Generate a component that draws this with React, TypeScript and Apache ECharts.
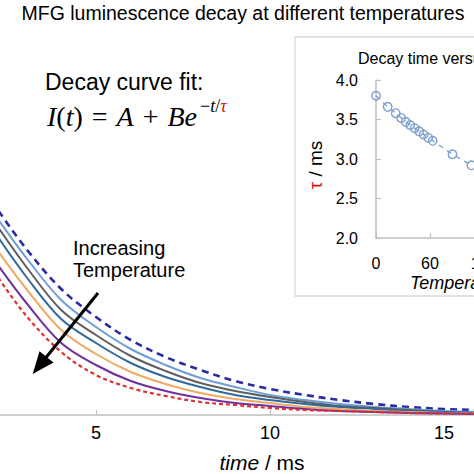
import React, { useEffect, useRef } from "react";
import * as echarts from "echarts";

// Main chart: time (ms) sample points and intensity (a.u.) of each decay curve
const times = [2.2, 3, 4, 5, 6, 7, 8, 9, 10, 11, 12, 13, 14, 15, 16, 17];
const curveBlueDashed = [204, 166, 126, 98, 75, 58, 45, 34, 26, 20, 15, 11, 8, 6, 5, 4];
const curveLightBlue = [195, 157, 115, 88, 66, 50, 37, 28, 20, 15, 11, 8, 6, 4, 3, 2.5];
const curveGray = [187, 148, 105, 80, 59, 44, 32, 24, 18, 13, 9, 7, 5, 3, 2, 1.5];
const curveDarkBlue = [177, 138, 96, 72, 52, 38, 28, 20, 15, 11, 8, 6, 4, 3, 2, 1.5];
const curveOrange = [163, 126, 85, 61, 43, 31, 22, 16, 12, 8, 6, 4, 3, 2, 1.5, 1];
const curvePurple = [149, 112, 72, 50, 34, 24, 17, 12, 9, 6, 4, 3, 2, 1.5, 1, 0.8];
const curveRedDashed = [137, 99, 63, 40, 27, 19, 13, 10, 7, 5, 4, 3, 2, 1.5, 1, 0.8];

// Inset: decay time versus temperature
const insetTemps = [0, 13, 22, 28, 33, 38, 43, 48, 53, 58, 63, 85, 106];
const insetTau = [3.8, 3.66, 3.58, 3.52, 3.47, 3.43, 3.39, 3.35, 3.31, 3.27, 3.23, 3.06, 2.92];

const mainTicks = [5, 10, 15];

const SANS = "Liberation Sans";
const SERIF = "Liberation Serif";

function pairs(vals: number[]) {
  return times.map((t, i) => [t, vals[i]]);
}

export default function App() {
  const ref = useRef<HTMLDivElement>(null);
  useEffect(() => {
    if (!ref.current) return;
    const chart = echarts.init(ref.current, undefined, { renderer: "svg" });
    const curveDefs = [
      { name: "c1", data: curveBlueDashed, color: "#2b2ba6", type: [7, 5], width: 2.6 },
      { name: "c2", data: curveLightBlue, color: "#6c9fd6", type: "solid", width: 2 },
      { name: "c3", data: curveGray, color: "#5f5f5f", type: "solid", width: 2 },
      { name: "c4", data: curveDarkBlue, color: "#2f6a9c", type: "solid", width: 2 },
      { name: "c5", data: curveOrange, color: "#f0a864", type: "solid", width: 2 },
      { name: "c6", data: curvePurple, color: "#7030a0", type: "solid", width: 2 },
      { name: "c7", data: curveRedDashed, color: "#e0302c", type: [4, 3], width: 2.2 },
    ];
    const mainSeries = curveDefs.map((c) => ({
      name: c.name,
      type: "line",
      xAxisIndex: 0,
      yAxisIndex: 0,
      data: pairs(c.data),
      smooth: 0.35,
      symbol: "none",
      lineStyle: { color: c.color, width: c.width, type: c.type as any },
      z: 3,
    }));
    const axisGray = "#bfbfbf";
    chart.setOption({
      animation: false,
      backgroundColor: "#ffffff",
      grid: [
        { left: -78, right: -144, top: 195, bottom: 59, outerBoundsMode: "none", containLabel: false },
        { left: 376, top: 80, width: 162, height: 158, outerBoundsMode: "none", containLabel: false },
      ],
      xAxis: [
        {
          gridIndex: 0,
          type: "value",
          min: 0,
          max: 20,
          interval: 5,
          axisLine: { show: true, lineStyle: { color: axisGray, width: 1.5 } },
          axisTick: { show: true, inside: true, length: 5, lineStyle: { color: axisGray, width: 1.2 } },
          axisLabel: {
            fontSize: 18,
            color: "#000",
            fontFamily: SANS,
            margin: 9,
            formatter: (v: number) => (mainTicks.includes(v) ? String(v) : ""),
          },
          splitLine: { show: false },
        },
        {
          gridIndex: 1,
          type: "value",
          min: 0,
          max: 180,
          interval: 60,
          axisLine: { show: true, lineStyle: { color: axisGray, width: 1.5 } },
          axisTick: { show: true, inside: true, length: 5, lineStyle: { color: axisGray, width: 1.2 } },
          axisLabel: { fontSize: 16, color: "#000", fontFamily: SANS, margin: 17 },
          splitLine: { show: false },
        },
      ],
      yAxis: [
        { gridIndex: 0, type: "value", min: 0, max: 220, show: false },
        {
          gridIndex: 1,
          type: "value",
          min: 2,
          max: 4,
          interval: 0.5,
          axisLine: { show: true, lineStyle: { color: axisGray, width: 1.5 } },
          axisTick: { show: true, inside: true, length: 5, lineStyle: { color: axisGray, width: 1.2 } },
          axisLabel: {
            fontSize: 16,
            color: "#000",
            fontFamily: SANS,
            margin: 18,
            formatter: (v: number) => v.toFixed(1),
          },
          splitLine: { show: false },
        },
      ],
      series: [
        ...mainSeries,
        {
          name: "tau",
          type: "line",
          xAxisIndex: 1,
          yAxisIndex: 1,
          data: insetTemps.map((t, i) => [t, insetTau[i]]),
          symbol: "circle",
          symbolSize: 8.5,
          itemStyle: { color: "rgba(255,255,255,0)", borderColor: "#7f9fd0", borderWidth: 1.4 },
          lineStyle: { color: "#7f9fd0", width: 1.3, type: [5, 5] },
          z: 5,
        },
      ],
      graphic: [
        {
          type: "rect",
          z: -10,
          shape: { x: 295, y: 37, width: 200, height: 259 },
          style: { fill: "#ffffff", stroke: "#d9d9d9", lineWidth: 1.3 },
        },
        {
          type: "text",
          z: 10,
          x: 243,
          y: 13,
          style: {
            text: "MFG luminescence decay at different temperatures",
            fontFamily: SANS,
            fontSize: 19.5,
            fill: "#000",
            align: "center",
            verticalAlign: "middle",
          },
        },
        {
          type: "text",
          z: 10,
          x: 45,
          y: 82,
          style: {
            text: "Decay curve fit:",
            fontFamily: SANS,
            fontSize: 23,
            fill: "#000",
            align: "left",
            verticalAlign: "middle",
          },
        },
        {
          type: "text",
          z: 10,
          x: 47,
          y: 116,
          style: {
            text: "{i|I}{n|(}{i|t}{n|)}{s| }{n|=}{s| }{i|A}{s| }{n|+}{s| }{i|Be}",
            align: "left",
            verticalAlign: "middle",
            rich: {
              i: { fontFamily: SERIF, fontStyle: "italic", fontSize: 28, fill: "#000" },
              n: { fontFamily: SERIF, fontSize: 28, fill: "#000" },
              s: { fontFamily: SERIF, fontSize: 36, fill: "#000" },
            },
          },
        },
        {
          type: "text",
          z: 10,
          x: 200,
          y: 106,
          style: {
            text: "{n|\u2212}{i|t}{n|/}{r|\u03c4}",
            align: "left",
            verticalAlign: "middle",
            rich: {
              i: { fontFamily: SERIF, fontStyle: "italic", fontSize: 18, fill: "#000" },
              n: { fontFamily: SERIF, fontSize: 18, fill: "#000" },
              r: { fontFamily: SERIF, fontStyle: "italic", fontSize: 18, fill: "#e01010" },
            },
          },
        },
        {
          type: "text",
          z: 10,
          x: 73,
          y: 248,
          style: { text: "Increasing", fontFamily: SANS, fontSize: 20, fill: "#000", align: "left", verticalAlign: "middle" },
        },
        {
          type: "text",
          z: 10,
          x: 73,
          y: 270,
          style: { text: "Temperature", fontFamily: SANS, fontSize: 20, fill: "#000", align: "left", verticalAlign: "middle" },
        },
        {
          type: "line",
          z: 20,
          shape: { x1: 98, y1: 293, x2: 44, y2: 360 },
          style: { stroke: "#000", lineWidth: 3 },
        },
        {
          type: "polygon",
          z: 20,
          shape: { points: [[32.7, 374], [39.5, 351.2], [53.5, 362.5]] },
          style: { fill: "#000" },
        },
        {
          type: "text",
          z: 10,
          x: 262,
          y: 462,
          style: {
            text: "{it|time}{n| / ms}",
            align: "center",
            verticalAlign: "middle",
            rich: {
              it: { fontFamily: SANS, fontStyle: "italic", fontSize: 21, fill: "#000" },
              n: { fontFamily: SANS, fontSize: 21, fill: "#000" },
            },
          },
        },
        {
          type: "text",
          z: 10,
          x: 358,
          y: 58,
          style: {
            text: "Decay time versus temperature",
            fontFamily: SANS,
            fontSize: 16,
            fill: "#000",
            align: "left",
            verticalAlign: "middle",
          },
        },
        {
          type: "text",
          z: 10,
          x: 315,
          y: 165,
          rotation: Math.PI / 2,
          style: {
            text: "{r|\u03c4}{n| / ms}",
            align: "center",
            verticalAlign: "middle",
            rich: {
              r: { fontFamily: SANS, fontSize: 19, fill: "#e01010" },
              n: { fontFamily: SANS, fontSize: 19, fill: "#000" },
            },
          },
        },
        {
          type: "text",
          z: 10,
          x: 410,
          y: 283,
          style: {
            text: "Temperature / \u00b0C",
            fontFamily: SANS,
            fontStyle: "italic",
            fontSize: 18,
            fill: "#000",
            align: "left",
            verticalAlign: "middle",
          },
        },
      ],
    });
    return () => chart.dispose();
  }, []);
  return (
    <div
      ref={ref}
      style={{ position: "fixed", left: 0, top: 0, width: 474, height: 474, background: "#fff" }}
    />
  );
}
